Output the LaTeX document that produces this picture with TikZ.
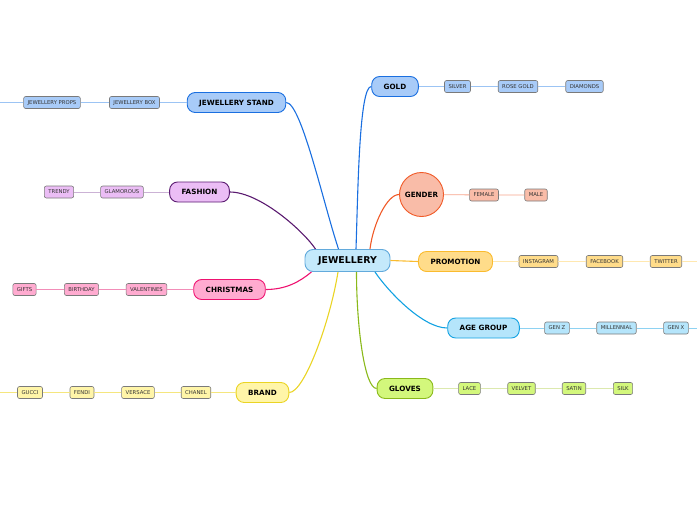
\documentclass[tikz,border=0pt]{standalone}
\usepackage{fontspec}
\setmainfont{DejaVu Sans}
\definecolor{rootfill}{HTML}{C4E9FB}
\definecolor{rootline}{HTML}{62AADC}
\definecolor{bluefill}{HTML}{A8CBF8}
\definecolor{blueline}{HTML}{1A6FE0}
\definecolor{bluetwig}{HTML}{9CC4F4}
\definecolor{purplefill}{HTML}{EBBDF5}
\definecolor{purpleline}{HTML}{5A1A70}
\definecolor{purpletwig}{HTML}{CBB2D5}
\definecolor{pinkfill}{HTML}{FFABD0}
\definecolor{pinkline}{HTML}{EE1270}
\definecolor{pinktwig}{HTML}{F28DB8}
\definecolor{yellowfill}{HTML}{FFF5A8}
\definecolor{yellowline}{HTML}{EAD424}
\definecolor{yellowtwig}{HTML}{F5E67E}
\definecolor{salmonfill}{HTML}{F9BCA8}
\definecolor{salmonline}{HTML}{F05A28}
\definecolor{salmontwig}{HTML}{F7A48C}
\definecolor{orangefill}{HTML}{FFDC8A}
\definecolor{orangeline}{HTML}{FABB2E}
\definecolor{orangetwig}{HTML}{FFE8B0}
\definecolor{skyfill}{HTML}{B5E5FB}
\definecolor{skyline}{HTML}{12A2E2}
\definecolor{skytwig}{HTML}{8ED2F2}
\definecolor{limefill}{HTML}{D3F77C}
\definecolor{limeline}{HTML}{8AB91A}
\definecolor{limetwig}{HTML}{DCE9AE}
\definecolor{leafgray}{HTML}{7A7A7A}

\begin{document}
\begin{tikzpicture}[x=1pt,y=-1pt,
  topic/.style={rectangle,rounded corners=8pt,line width=0.9pt,minimum height=20pt,inner xsep=12pt,inner ysep=0pt,text depth=0pt,font=\fontsize{7.2}{8}\selectfont\bfseries},
  leaf/.style={rectangle,rounded corners=2pt,draw=leafgray,line width=0.6pt,minimum height=12pt,inner xsep=4pt,inner ysep=0pt,text depth=0pt,text=black!80,font=\fontsize{5.3}{6}\selectfont},
  branch/.style={line width=1.1pt},
  twig/.style={line width=0.8pt}]
\useasboundingbox (0,0) rectangle (697,520);

\node[topic,draw=rootline,fill=rootfill,minimum height=22pt,minimum width=85pt,inner xsep=12pt,font=\fontsize{9.4}{10}\selectfont\bfseries] (root) at (347.5,260.5) {JEWELLERY};

\node[topic,draw=blueline,fill=bluefill] (stand) at (236.5,102.5) {JEWELLERY STAND};
\node[leaf,fill=bluefill] (box) at (134.5,102.5) {JEWELLERY BOX};
\node[leaf,fill=bluefill] (props) at (52,102.5) {JEWELLERY PROPS};
\coordinate (standend) at (0,102.5);

\node[topic,draw=purpleline,fill=purplefill] (fashion) at (199.5,192) {FASHION};
\node[leaf,fill=purplefill] (glam) at (122,192) {GLAMOROUS};
\node[leaf,fill=purplefill] (trendy) at (59,192) {TRENDY};

\node[topic,draw=pinkline,fill=pinkfill] (xmas) at (229.5,289.5) {CHRISTMAS};
\node[leaf,fill=pinkfill] (valent) at (146.5,289.5) {VALENTINES};
\node[leaf,fill=pinkfill] (bday) at (81.5,289.5) {BIRTHDAY};
\node[leaf,fill=pinkfill] (gifts) at (24.5,289.5) {GIFTS};

\node[topic,draw=yellowline,fill=yellowfill] (brand) at (262.5,392.5) {BRAND};
\node[leaf,fill=yellowfill] (chanel) at (196,392.5) {CHANEL};
\node[leaf,fill=yellowfill] (versace) at (138,392.5) {VERSACE};
\node[leaf,fill=yellowfill] (fendi) at (82,392.5) {FENDI};
\node[leaf,fill=yellowfill] (gucci) at (30,392.5) {GUCCI};
\coordinate (brandend) at (0,392.5);

\node[topic,draw=blueline,fill=bluefill] (gold) at (395,86.5) {GOLD};
\node[leaf,fill=bluefill] (silver) at (457.5,86.5) {SILVER};
\node[leaf,fill=bluefill] (rose) at (518,86.5) {ROSE GOLD};
\node[leaf,fill=bluefill] (diam) at (584.5,86.5) {DIAMONDS};

\node[circle,draw=salmonline,fill=salmonfill,line width=0.9pt,minimum size=44pt,inner sep=0pt,text depth=0pt,font=\fontsize{7.2}{8}\selectfont\bfseries] (gender) at (421.5,194.5) {GENDER};
\node[leaf,fill=salmonfill] (female) at (484,195) {FEMALE};
\node[leaf,fill=salmonfill] (male) at (536,195) {MALE};

\node[topic,draw=orangeline,fill=orangefill] (promo) at (455.5,261.5) {PROMOTION};
\node[leaf,fill=orangefill] (insta) at (538.5,261.5) {INSTAGRAM};
\node[leaf,fill=orangefill] (fb) at (604.5,261.5) {FACEBOOK};
\node[leaf,fill=orangefill] (tw) at (666,261.5) {TWITTER};
\coordinate (promoend) at (697,261.5);

\node[topic,draw=skyline,fill=skyfill] (age) at (483.5,328) {AGE GROUP};
\node[leaf,fill=skyfill] (genz) at (557,328) {GEN Z};
\node[leaf,fill=skyfill] (mill) at (616.5,328) {MILLENNIAL};
\node[leaf,fill=skyfill] (genx) at (676,328) {GEN X};
\coordinate (ageend) at (697,328);

\node[topic,draw=limeline,fill=limefill] (gloves) at (405,388.5) {GLOVES};
\node[leaf,fill=limefill] (lace) at (469.5,388.5) {LACE};
\node[leaf,fill=limefill] (velvet) at (521.5,388.5) {VELVET};
\node[leaf,fill=limefill] (satin) at (574,388.5) {SATIN};
\node[leaf,fill=limefill] (silk) at (623,388.5) {SILK};

\draw[branch,draw=blueline] ([xshift=-9pt]root.north) .. controls +(-15,-45) and +(15,0) .. (stand.east);
\draw[branch,draw=blueline] ([xshift=8.5pt]root.north) .. controls +(2,-60) and +(-12,0) .. (gold.west);
\draw[branch,draw=salmonline] ([xshift=22.5pt]root.north) .. controls +(3,-25) and +(-12,0) .. (gender.west);
\draw[branch,draw=purpleline] ([xshift=-32pt]root.north) .. controls +(-12,-18) and +(30,0) .. (fashion.east);
\draw[branch,draw=pinkline] ([xshift=-36pt]root.south) .. controls +(-12,10) and +(20,0) .. (xmas.east);
\draw[branch,draw=yellowline] ([xshift=-9.5pt]root.south) .. controls +(-8,50) and +(15,0) .. (brand.east);
\draw[branch,draw=limeline] ([xshift=9pt]root.south) .. controls +(0,55) and +(-12,0) .. (gloves.west);
\draw[branch,draw=skyline] ([xshift=27.5pt]root.south) .. controls +(12,18) and +(-25,0) .. (age.west);
\draw[branch,draw=orangeline] (root.east) -- (promo.west);

\draw[twig,draw=bluetwig] (stand) -- (box) -- (props) -- (standend);
\draw[twig,draw=purpletwig] (fashion) -- (glam) -- (trendy);
\draw[twig,draw=pinktwig] (xmas) -- (valent) -- (bday) -- (gifts);
\draw[twig,draw=yellowtwig] (brand) -- (chanel) -- (versace) -- (fendi) -- (gucci) -- (brandend);
\draw[twig,draw=bluetwig] (gold) -- (silver) -- (rose) -- (diam);
\draw[twig,draw=salmontwig] (gender) -- (female) -- (male);
\draw[twig,draw=orangetwig] (promo) -- (insta) -- (fb) -- (tw) -- (promoend);
\draw[twig,draw=skytwig] (age) -- (genz) -- (mill) -- (genx) -- (ageend);
\draw[twig,draw=limetwig] (gloves) -- (lace) -- (velvet) -- (satin) -- (silk);

\end{tikzpicture}
\end{document}
